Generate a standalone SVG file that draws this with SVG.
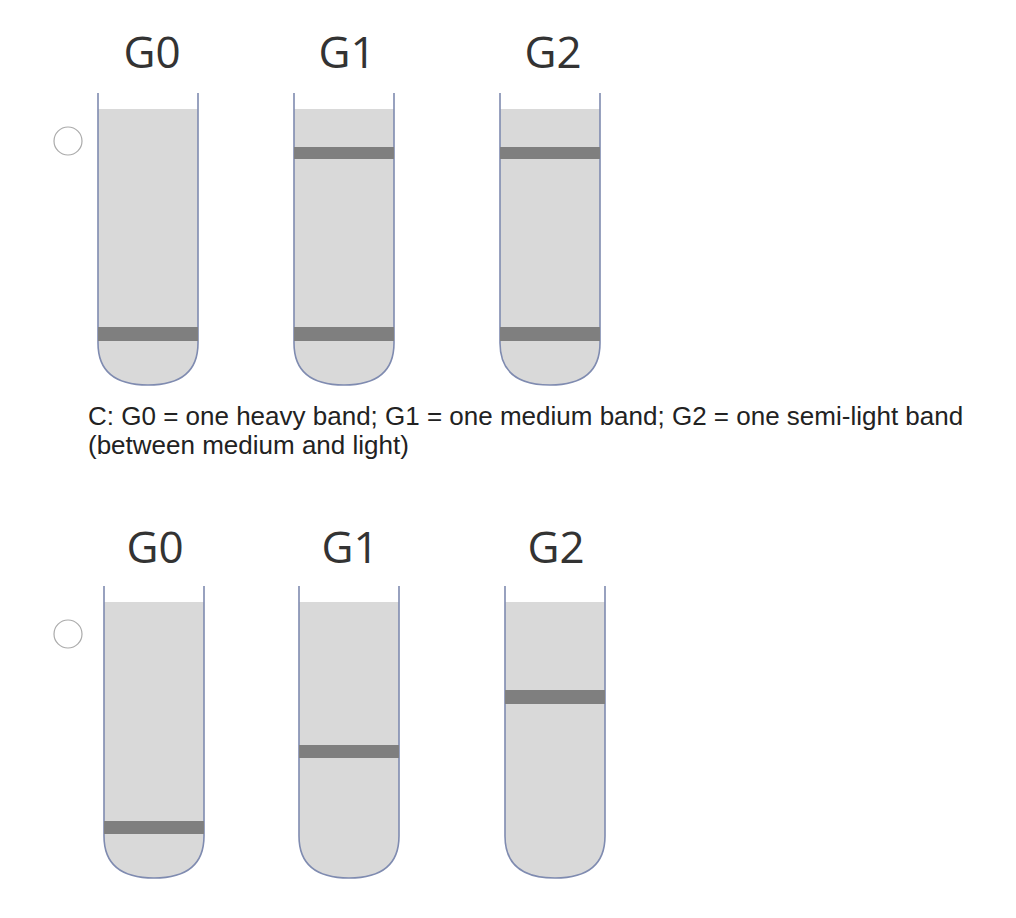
<svg xmlns="http://www.w3.org/2000/svg" width="1016" height="918" viewBox="0 0 1016 918">
<style>
.lbl{font-family:"Open Sans","Liberation Sans",sans-serif;font-size:44px;fill:#333;text-anchor:middle}
.txt{font-family:"Liberation Sans",Arial,sans-serif;font-size:26px;fill:#222}
.liq{fill:#d9d9d9}
.wall{fill:none;stroke:#7f8bb0;stroke-width:1.6}
.band{fill:#7f7f7f}
.radio{fill:#fff;stroke:#aaa;stroke-width:1.2}
</style>
<defs>
<g id="tube">
<path class="liq" d="M0,16 H100 V250 Q100,292 50,292 Q0,292 0,250 Z"/>
<path class="wall" d="M0,0 V250 Q0,292 50,292 Q100,292 100,250 V0"/>
</g>
</defs>
<circle class="radio" cx="68" cy="141" r="14"/>
<circle class="radio" cx="68" cy="634" r="14"/>
<g id="set1">
<text class="lbl" x="152" y="68">G0</text>
<text class="lbl" x="347" y="68">G1</text>
<text class="lbl" x="553" y="68">G2</text>
<g id="t1" transform="translate(98,93)"><use href="#tube"/><rect class="band" x="0" y="234" width="100" height="14"/></g>
<g id="t2" transform="translate(294,93)"><use href="#tube"/><rect class="band" x="0" y="54" width="100" height="12"/><rect class="band" x="0" y="234" width="100" height="14"/></g>
<g id="t3" transform="translate(500,93)"><use href="#tube"/><rect class="band" x="0" y="54" width="100" height="12"/><rect class="band" x="0" y="234" width="100" height="14"/></g>
</g>
<text class="txt" x="88" y="425">C: G0 = one heavy band; G1 = one medium band; G2 = one semi-light band</text>
<text class="txt" x="88" y="454">(between medium and light)</text>
<g id="set2">
<text class="lbl" x="155" y="563">G0</text>
<text class="lbl" x="350" y="563">G1</text>
<text class="lbl" x="556" y="563">G2</text>
<g id="t4" transform="translate(104,586)"><use href="#tube"/><rect class="band" x="0" y="235" width="100" height="13"/></g>
<g id="t5" transform="translate(299,586)"><use href="#tube"/><rect class="band" x="0" y="159" width="100" height="13"/></g>
<g id="t6" transform="translate(505,586)"><use href="#tube"/><rect class="band" x="0" y="104" width="100" height="14"/></g>
</g>
</svg>
